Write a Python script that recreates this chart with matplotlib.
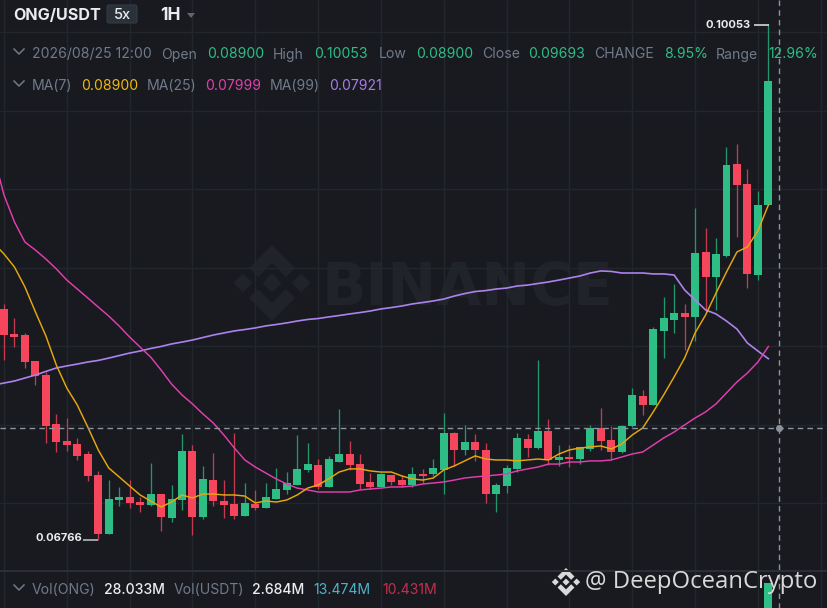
import numpy as np
import matplotlib
matplotlib.use("Agg")
import matplotlib.pyplot as plt
from matplotlib.patches import Polygon, FancyBboxPatch

plt.rcParams['font.family'] = ['Inter', 'DejaVu Sans']

# hourly candles
opens = [0.08238,0.08078,0.08072,0.07906,0.07817,0.07505,0.07397,0.07378,0.07314,0.07180,
         0.06804,0.07021,0.07040,0.07008,0.06989,0.07059,0.06907,0.07021,0.07333,0.06913,
         0.07148,0.07015,0.06996,0.06919,0.06996,0.06970,0.07027,0.07085,0.07117,0.07212,
         0.07244,0.07104,0.07263,0.07314,0.07250,0.07136,0.07104,0.07180,0.07148,0.07117,
         0.07187,0.07187,0.07212,0.07448,0.07340,0.07390,0.07340,0.07059,0.07110,0.07219,
         0.07410,0.07352,0.07461,0.07276,0.07295,0.07282,0.07346,0.07480,0.07403,0.07327,
         0.07492,0.07684,0.07626,0.08097,0.08168,0.08212,0.08187,0.08601,0.08442,0.08575,
         0.09161,0.09034,0.08455,0.08900]
closes = [0.08072,0.08059,0.07900,0.07810,0.07492,0.07390,0.07371,0.07302,0.07174,0.06804,
          0.07027,0.07040,0.07002,0.06989,0.07059,0.06913,0.07027,0.07333,0.06913,0.07155,
          0.07015,0.06989,0.06919,0.07002,0.06970,0.07040,0.07091,0.07129,0.07219,0.07250,
          0.07104,0.07282,0.07314,0.07244,0.07123,0.07104,0.07187,0.07136,0.07117,0.07187,
          0.07174,0.07225,0.07448,0.07340,0.07390,0.07340,0.07059,0.07117,0.07225,0.07416,
          0.07352,0.07461,0.07276,0.07295,0.07282,0.07359,0.07480,0.07397,0.07327,0.07492,
          0.07690,0.07626,0.08110,0.08180,0.08212,0.08187,0.08595,0.08442,0.08588,0.09155,
          0.09027,0.08461,0.08900,0.09693]
highs = [0.08270,0.08180,0.08085,0.07906,0.07836,0.07569,0.07543,0.07416,0.07333,0.07206,
         0.07148,0.07104,0.07148,0.07040,0.07257,0.07059,0.07117,0.07441,0.07371,0.07238,
         0.07321,0.07148,0.07448,0.07129,0.07085,0.07129,0.07225,0.07199,0.07435,0.07384,
         0.07282,0.07302,0.07600,0.07397,0.07314,0.07193,0.07193,0.07180,0.07180,0.07231,
         0.07219,0.07282,0.07575,0.07454,0.07499,0.07441,0.07384,0.07129,0.07244,0.07448,
         0.07441,0.07912,0.07537,0.07371,0.07371,0.07359,0.07499,0.07607,0.07492,0.07499,
         0.07735,0.07722,0.08123,0.08314,0.08397,0.08270,0.08881,0.08754,0.08690,0.09269,
         0.09289,0.09129,0.08989,0.10053]
lows = [0.07912,0.07995,0.07861,0.07753,0.07384,0.07327,0.07333,0.07276,0.07142,0.06766,
        0.06804,0.06983,0.06970,0.06944,0.06983,0.06823,0.06881,0.06957,0.06798,0.06900,
        0.06983,0.06907,0.06900,0.06919,0.06957,0.06970,0.07027,0.07059,0.07117,0.07199,
        0.07091,0.07104,0.07263,0.07212,0.07091,0.07091,0.07104,0.07117,0.07104,0.07104,
        0.07129,0.07174,0.07059,0.07238,0.07308,0.07270,0.07002,0.06944,0.07066,0.07199,
        0.07295,0.07346,0.07244,0.07238,0.07231,0.07250,0.07333,0.07340,0.07276,0.07321,
        0.07486,0.07562,0.07626,0.07925,0.08085,0.07976,0.08034,0.08219,0.08232,0.08569,
        0.08696,0.08372,0.08422,0.08900]

# moving averages, the first value belongs to the candle just off the left edge
ma7 = [0.08658,0.08588,0.08505,0.08378,0.08219,0.08066,0.07880,0.07734,0.07626,0.07486,0.07340,
       0.07225,0.07168,0.07110,0.07053,0.07015,0.06976,0.07008,0.07053,0.07034,0.07059,
       0.07059,0.07053,0.07053,0.07046,0.07002,0.07015,0.07008,0.07021,0.07053,0.07097,
       0.07117,0.07155,0.07199,0.07219,0.07219,0.07206,0.07199,0.07199,0.07174,0.07155,
       0.07148,0.07161,0.07212,0.07238,0.07270,0.07302,0.07282,0.07276,0.07276,0.07270,
       0.07276,0.07282,0.07276,0.07314,0.07340,0.07352,0.07359,0.07365,0.07346,0.07378,
       0.07435,0.07480,0.07582,0.07690,0.07805,0.07925,0.08085,0.08199,0.08339,0.08473,
       0.08601,0.08633,0.08735,0.08900]
ma25 = [0.09218,0.08964,0.08792,0.08664,0.08613,0.08556,0.08493,0.08422,0.08365,0.08308,0.08250,
        0.08193,0.08129,0.08059,0.07995,0.07932,0.07849,0.07760,0.07690,0.07633,0.07569,
        0.07511,0.07435,0.07352,0.07276,0.07231,0.07193,0.07155,0.07123,0.07097,0.07085,
        0.07072,0.07072,0.07072,0.07072,0.07085,0.07091,0.07097,0.07104,0.07104,0.07110,
        0.07123,0.07129,0.07136,0.07148,0.07161,0.07168,0.07174,0.07180,0.07187,0.07206,
        0.07219,0.07231,0.07250,0.07250,0.07263,0.07263,0.07270,0.07270,0.07276,0.07295,
        0.07314,0.07327,0.07371,0.07416,0.07454,0.07499,0.07543,0.07582,0.07633,0.07703,
        0.07773,0.07830,0.07900,0.07999]
ma99 = [0.07754,0.07766,0.07779,0.07798,0.07817,0.07840,0.07862,0.07875,0.07887,0.07900,0.07910,
        0.07925,0.07941,0.07957,0.07970,0.07986,0.07999,0.08015,0.08027,0.08040,0.08056,
        0.08072,0.08085,0.08098,0.08107,0.08117,0.08130,0.08139,0.08149,0.08161,0.08171,
        0.08177,0.08187,0.08196,0.08206,0.08215,0.08225,0.08238,0.08247,0.08257,0.08270,
        0.08279,0.08289,0.08301,0.08320,0.08336,0.08349,0.08355,0.08365,0.08371,0.08384,
        0.08390,0.08400,0.08410,0.08422,0.08435,0.08448,0.08467,0.08480,0.08477,0.08467,
        0.08467,0.08467,0.08461,0.08461,0.08454,0.08359,0.08295,0.08232,0.08206,0.08161,
        0.08110,0.08021,0.07970,0.07921]

vol_index = [73]
vol_values = [28.033]
hline_prices = [0.070, 0.075, 0.080, 0.085, 0.090, 0.095, 0.100]
cross_index = 74
cross_price = 0.07480

BG = '#181A20'
GRID = '#22272C'
GREEN = '#2EBD85'
RED = '#F6465D'
GREY = '#707A8A'

fig = plt.figure(figsize=(8.27, 6.08), dpi=100, facecolor=BG)

# back layer in pixels: watermark
back = fig.add_axes([0, 0, 1, 1], zorder=0, facecolor=BG)
back.set_xlim(0, 827)
back.set_ylim(608, 0)
back.axis('off')

# price panel, fills the whole figure
ax = fig.add_axes([0, 0, 1, 1], zorder=1)
ax.patch.set_alpha(0)
ax.set_xlim(-0.382, 78.6)
ax.set_ylim(0.06333, 0.10206)
ax.axis('off')

# volume panel
ax_vol = fig.add_axes([0, 0, 1, 37 / 608], zorder=1)
ax_vol.patch.set_alpha(0)
ax_vol.set_xlim(-0.382, 78.6)
ax_vol.set_ylim(0, 41.5)
ax_vol.axis('off')

# front layer in pixels: all the labels
top = fig.add_axes([0, 0, 1, 1], zorder=2)
top.patch.set_alpha(0)
top.set_xlim(0, 827)
top.set_ylim(608, 0)
top.axis('off')


def binance_logo(a, cx, cy, r, color):
    s = r / 38
    for dx, dy in [(0, 0), (-29, 0), (29, 0)]:
        pts = [(dx, dy - 9.5), (dx + 9.5, dy), (dx, dy + 9.5), (dx - 9.5, dy)]
        a.add_patch(Polygon([(cx + x * s, cy + y * s) for x, y in pts], color=color, lw=0))
    chevron = [(0, 38), (23, 15), (14, 6), (0, 20), (-14, 6), (-23, 15)]
    for sign in (-1, 1):
        a.add_patch(Polygon([(cx + x * s, cy + sign * y * s) for x, y in chevron], color=color, lw=0))


binance_logo(back, 272, 283, 38, '#202329')
back.text(322, 283, 'BINANCE', color='#202329', fontsize=42, fontweight='bold',
          va='center_baseline', ha='left', family='DejaVu Sans')

# grid
ax.vlines(np.arange(0, 79, 6), 0.06333, 0.10206, color=GRID, lw=1, zorder=1)
ax.hlines(hline_prices, -1, 79, color=GRID, lw=1, zorder=1)
top.hlines(571, 0, 827, color='#2B2F36', lw=1.4)

# candles
idx = np.arange(len(opens))
o = np.array(opens)
c = np.array(closes)
up = c >= o
ax.vlines(idx[up], np.array(lows)[up], np.array(highs)[up], color='#23966C', lw=0.95, zorder=3)
ax.vlines(idx[~up], np.array(lows)[~up], np.array(highs)[~up], color='#C43A4F', lw=0.95, zorder=3)
ax.bar(idx[up], (c - o)[up], bottom=o[up], width=0.76, color=GREEN, lw=0, zorder=4)
ax.bar(idx[~up], (o - c)[~up], bottom=c[~up], width=0.76, color=RED, lw=0, zorder=4)

# moving averages
ma_idx = np.arange(-1, 74)
ax.plot(ma_idx, ma99, color='#AC82EC', lw=1.2, zorder=5)
ax.plot(ma_idx, ma25, color='#E23FAE', lw=1.05, zorder=5)
ax.plot(ma_idx, ma7, color='#E8A80C', lw=1.05, zorder=5)

# volume
ax_vol.bar(vol_index, vol_values, width=0.76, color=GREEN, lw=0)

# crosshair
ax.axhline(cross_price, color='#8D939C', lw=1, ls=(0, (4, 3)), zorder=6)
top.vlines(779, 0, 608, color='#8D939C', lw=1, ls=(0, (4, 3)))
ax.plot([cross_index], [cross_price], 'o', color='#8D939C', ms=4, zorder=7)


def label(x, y, s, color=GREY, size=10.1, weight='normal', family=None):
    kw = {'family': family} if family else {}
    top.text(x, y, s, color=color, fontsize=size, fontweight=weight, va='center', ha='left', **kw)


def chevron(x, y):
    top.plot([x, x + 5, x + 10], [y - 3, y + 2, y - 3], color=GREY, lw=1.1)


# title row
label(13, 16, 'ONG/USDT', color='#EAECEF', size=11.6, weight='bold')
top.add_patch(FancyBboxPatch((107, 5), 30, 18, boxstyle='round,pad=0,rounding_size=2',
                             fc='#2B3139', ec='#343B44', lw=0.8))
label(114, 15, '5x', color='#EAECEF', size=10.5, weight='medium')
label(160, 16, '1H', color='#EAECEF', size=12.5, weight='bold')
top.add_patch(Polygon([(187, 13), (195, 13), (191, 18)], color='#5E6673', lw=0))

# OHLC row
chevron(14, 52)
row = [(32, '2026/08/25 12:00', GREY), (161, 'Open', GREY), (207, '0.08900', GREEN),
       (273, 'High', GREY), (314, '0.10053', GREEN), (379, 'Low', GREY), (416, '0.08900', GREEN),
       (482, 'Close', GREY), (528, '0.09693', GREEN), (594, 'CHANGE', GREY), (664, '8.95%', GREEN),
       (716, 'Range', GREY), (768, '12.96%', GREEN)]
for x, s, col in row:
    label(x, 54.5, s, color=col)

# MA row
chevron(14, 84)
row = [(32, 'MA(7)', GREY), (81, '0.08900', '#F0B90B'), (147, 'MA(25)', GREY), (205, '0.07999', '#E23FAE'),
       (270, 'MA(99)', GREY), (329, '0.07921', '#A77BE8')]
for x, s, col in row:
    label(x, 86, s, color=col)

# high and low markers
label(705, 25, '0.10053', color='#EAECEF', size=8, weight='bold')
top.hlines(25, 754, 769, color='#D5D7DA', lw=1.2)
label(35, 538, '0.06766', color='#EAECEF', size=8, weight='bold')
top.hlines(540, 83, 98, color='#B5B8BD', lw=1.2)

# volume row
chevron(14, 588)
row = [(32, 'Vol(ONG)', GREY, 'normal'), (104, '28.033M', '#EAECEF', 'medium'),
       (174, 'Vol(USDT)', GREY, 'normal'), (252, '2.684M', '#EAECEF', 'medium'),
       (313, '13.474M', '#4FB3C8', 'normal'), (382, '10.431M', '#C4304C', 'normal')]
for x, s, col, w in row:
    label(x, 590, s, color=col, weight=w)

# overlay credit
binance_logo(top, 566, 582, 14, '#D9D9D9')
label(585, 582, '@ DeepOceanCrypto', color='#D9D9D9', size=17.2, family='Open Sans')

fig.savefig('out.png', dpi=100, facecolor=BG)
